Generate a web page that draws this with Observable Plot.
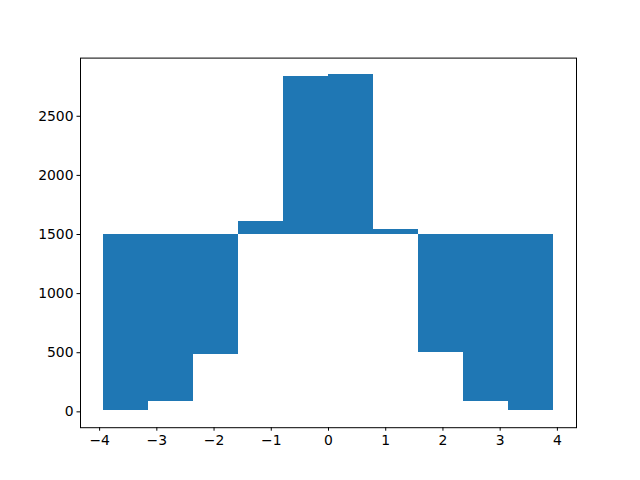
<!DOCTYPE html>
<html>
<head>
<meta charset="utf-8">
<script src="https://cdn.jsdelivr.net/npm/d3@7"></script>
<script src="https://cdn.jsdelivr.net/npm/@observablehq/plot@0.6"></script>
<style>
  html, body { margin: 0; padding: 0; background: #fff; }
  #chart svg { display: block; }
</style>
</head>
<body>
<div id="chart"></div>
<script>
// Bin edges (left and right) of the ten bars
const binLeft  = [-3.94, -3.152, -2.364, -1.576, -0.788, 0.0, 0.788, 1.576, 2.364, 3.152];
const binRight = [-3.152, -2.364, -1.576, -0.788, 0.0, 0.788, 1.576, 2.364, 3.152, 3.94];
// Histogram counts per bin; bars span between the count and the baseline
const counts = [10, 87, 485, 1610, 2835, 2850, 1542, 501, 87, 10];
const baseline = 1500;
const xTicks = [-4, -3, -2, -1, 0, 1, 2, 3, 4];
const yTicks = [0, 500, 1000, 1500, 2000, 2500];

const data = counts.map((c, i) => ({
  x1: binLeft[i], x2: binRight[i],
  y1: Math.min(c, baseline), y2: Math.max(c, baseline)
}));

const fmt = d => String(d).replace("-", "\u2212");

const chart = Plot.plot({
  width: 640,
  height: 480,
  marginLeft: 80,
  marginRight: 64,
  marginTop: 57.6,
  marginBottom: 52.8,
  style: { fontFamily: "DejaVu Sans", fontSize: "13.9px", color: "#000", background: "#fff" },
  x: { domain: [-4.334, 4.334], ticks: xTicks },
  y: { domain: [-134.1, 2992.1], ticks: yTicks },
  marks: [
    Plot.rect(data, { x1: "x1", x2: "x2", y1: "y1", y2: "y2", fill: "#1f77b4", shapeRendering: "crispEdges" }),
    Plot.frame({ stroke: "#000", strokeWidth: 1 }),
    Plot.axisX({ ticks: xTicks, tickFormat: fmt, tickSize: 3.5, tickPadding: 3.5, label: null, stroke: "#000", fill: "#000" }),
    Plot.axisY({ ticks: yTicks, tickFormat: fmt, tickSize: 3.5, tickPadding: 3.5, label: null, stroke: "#000", fill: "#000" })
  ]
});
document.getElementById("chart").appendChild(chart);
</script>
</body>
</html>
